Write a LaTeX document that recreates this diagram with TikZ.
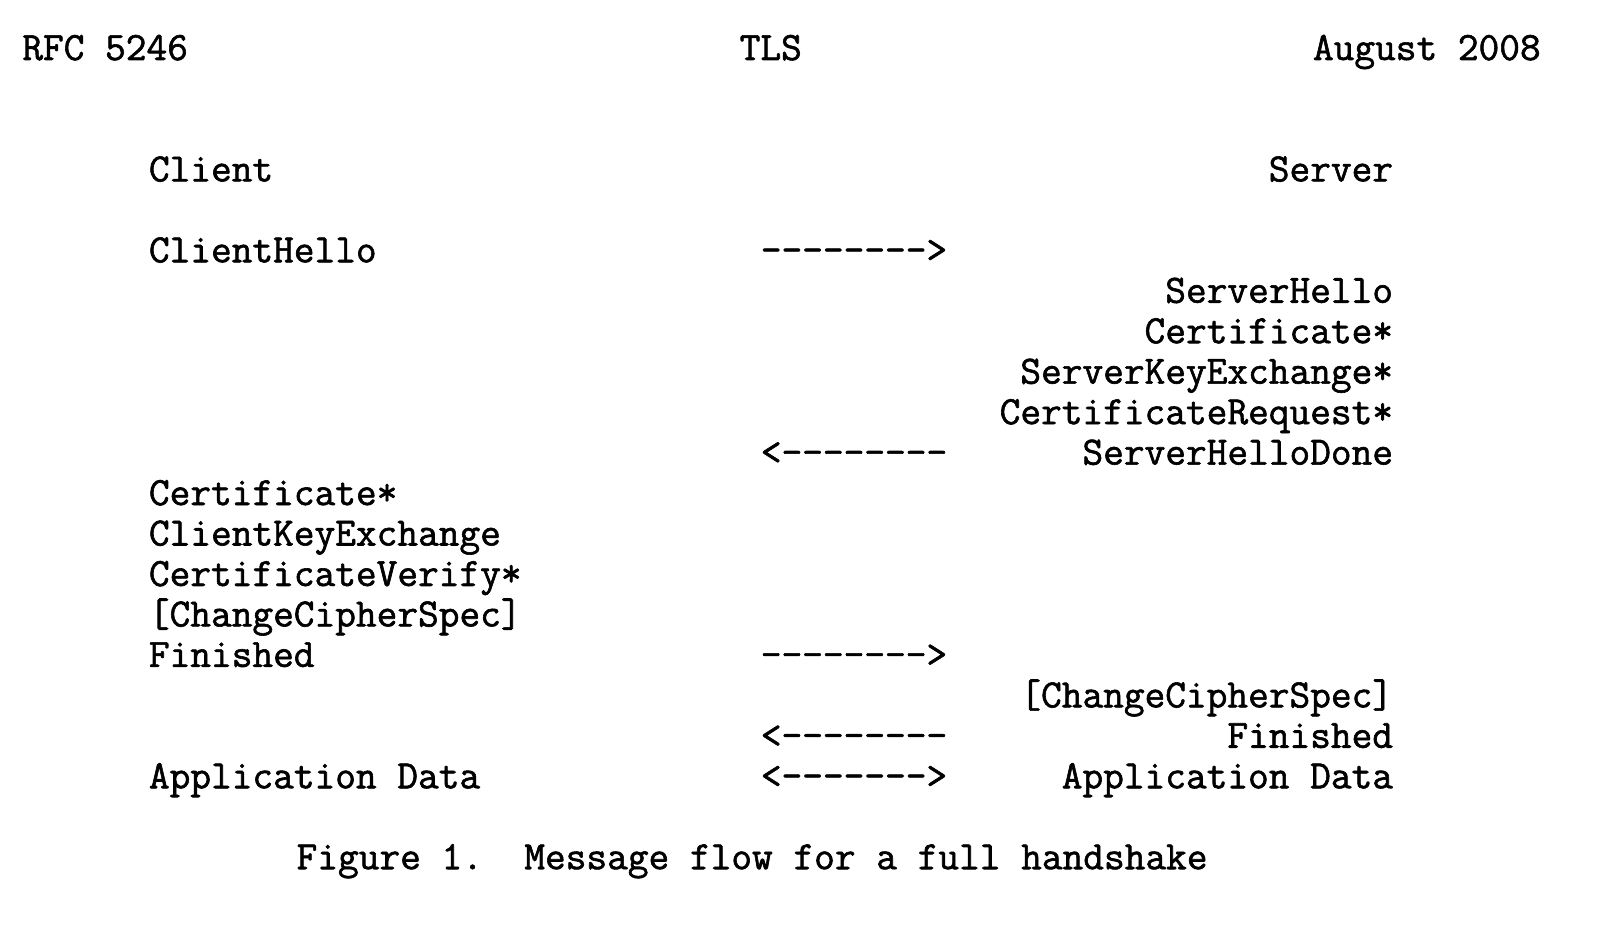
\documentclass[tikz,border=0pt]{standalone}
\usepackage{fontspec}
\newfontfamily\rfcfont[FakeBold=1.5]{Latin Modern Mono}
\frenchspacing

\tikzset{
  msg/.style={font=\rfcfont\fontsize{20.1pt}{24pt}\selectfont, inner sep=0pt, anchor=base west},
  msgr/.style={msg, anchor=base east}
}

\begin{document}
\begin{tikzpicture}[x=10.55pt, y=-20.23pt]
  \useasboundingbox (-1.04,-1.483) rectangle (74.79,21.58);
  \node (rfc) at (0,0) [msg] {RFC 5246};
  \node (tls) at (34,0) [msg] {TLS};
  \node (date) at (72,0) [msgr] {August 2008};
  \node (client) at (6,3) [msg] {Client};
  \node (server) at (65,3) [msgr] {Server};
  \node (chello) at (6,5) [msg] {ClientHello};
  \node (a1) at (35,5) [msg] {-------->};
  \node (shello) at (65,6) [msgr] {ServerHello};
  \node (scert) at (65,7) [msgr] {Certificate*};
  \node (skex) at (65,8) [msgr] {ServerKeyExchange*};
  \node (creq) at (65,9) [msgr] {CertificateRequest*};
  \node (a2) at (35,10) [msg] {<--------};
  \node (sdone) at (65,10) [msgr] {ServerHelloDone};
  \node (ccert) at (6,11) [msg] {Certificate*};
  \node (ckex) at (6,12) [msg] {ClientKeyExchange};
  \node (cver) at (6,13) [msg] {CertificateVerify*};
  \node (cccs) at (6,14) [msg] {[ChangeCipherSpec]};
  \node (cfin) at (6,15) [msg] {Finished};
  \node (a3) at (35,15) [msg] {-------->};
  \node (sccs) at (65,16) [msgr] {[ChangeCipherSpec]};
  \node (a4) at (35,17) [msg] {<--------};
  \node (sfin) at (65,17) [msgr] {Finished};
  \node (cdata) at (6,18) [msg] {Application Data};
  \node (a5) at (35,18) [msg] {<------->};
  \node (sdata) at (65,18) [msgr] {Application Data};
  \node (caption) at (13,20) [msg] {Figure 1.\ \ Message flow for a full handshake};
\end{tikzpicture}
\end{document}
